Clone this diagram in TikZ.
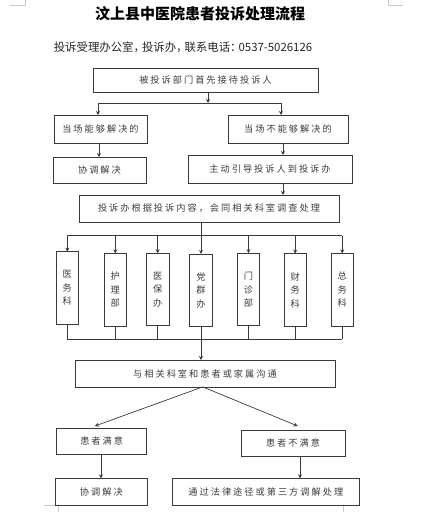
\documentclass[tikz,border=0pt]{standalone}
\usepackage{fontspec}
\setmainfont{Noto Sans CJK SC}
\usetikzlibrary{arrows.meta}
\makeatletter
\newcommand\lsp[1]{\@tfor\lspx:=#1\do{\lspx\kern2pt}\kern-2pt}
\makeatother
\definecolor{ln}{HTML}{3A3A3A}
\definecolor{tx}{HTML}{3C3C3C}
\definecolor{mk}{HTML}{C8C8C8}
\tikzset{
  box/.style={draw=ln, line width=0.9pt, rectangle, inner sep=0pt, outer sep=0pt,
    text=tx, font=\fontsize{9.2}{11}\selectfont},
  vbox/.style={box, minimum width=22.5pt, minimum height=72.7pt, align=center,
    font=\fontsize{9.2}{13.5}\selectfont},
  arr/.style={draw=ln, line width=0.7pt, -{Stealth[length=4pt,width=4pt]}},
  conn/.style={draw=ln, line width=0.7pt},
  pmark/.style={draw=mk, line width=0.6pt}
}
\begin{document}
\begin{tikzpicture}[x=1pt,y=-1pt]
\useasboundingbox (0,0) rectangle (423,524);
% page corner marks
\draw[pmark] (10,5) -- (25,5) -- (25,0);
\draw[pmark] (388,0) -- (388,5) -- (403,5);
\draw[pmark] (44,505) -- (58,505) -- (58,512);
\draw[pmark] (343,505) -- (343,512);
% titles
\node[font=\fontsize{15}{17}\selectfont\bfseries, text=black] (title) at (200,13.5) {汶上县中医院患者投诉处理流程};
\node[font=\fontsize{11.4}{14}\selectfont, text=black!85] (sub) at (183,47) {投诉受理办公室，\kern-3pt 投诉办，\kern-3pt 联系电话：\kern-3pt 0537-5026126};
% boxes
\node[box, minimum width=225pt, minimum height=24pt] (b1) at (205.5,80) {\lsp{被投诉部门首先接待投诉人}};
\node[box, minimum width=93pt, minimum height=28pt] (l1) at (100.5,129) {\lsp{当场能够解决的}};
\node[box, minimum width=120pt, minimum height=28pt] (r1) at (288,129) {\lsp{当场不能够解决的}};
\node[box, minimum width=93pt, minimum height=26pt] (l2) at (99.5,170) {\lsp{协调解决}};
\node[box, minimum width=164pt, minimum height=28pt] (r2) at (270,169) {\lsp{主动引导投诉人到投诉办}};
\node[box, minimum width=260pt, minimum height=27pt] (c1) at (209,208.5) {\lsp{投诉办根据投诉内容，会同相关科室调查处理}};
\node[vbox] (v1) at (67.3,288) {医\\务\\科};
\node[vbox] (v2) at (115.2,289.7) {护\\理\\部};
\node[vbox] (v3) at (157.7,289.5) {医\\保\\办};
\node[vbox] (v4) at (201,290.3) {党\\群\\办};
\node[vbox] (v5) at (248.5,289.5) {门\\诊\\部};
\node[vbox] (v6) at (295.2,290) {财\\务\\科};
\node[vbox] (v7) at (342.2,289.7) {总\\务\\科};
\node[box, minimum width=260pt, minimum height=27pt] (d1) at (205,373.5) {\lsp{与相关科室和患者或家属沟通}};
\node[box, minimum width=90pt, minimum height=26pt] (s1) at (101.7,441.3) {\lsp{患者满意}};
\node[box, minimum width=104pt, minimum height=26.7pt] (s2) at (293,443.3) {\lsp{患者不满意}};
\node[box, minimum width=92.7pt, minimum height=26.7pt] (e1) at (101.3,491.7) {\lsp{协调解决}};
\node[box, minimum width=187pt, minimum height=26.7pt] (e2) at (265.8,491.7) {\lsp{通过法律途径或第三方调解处理}};
% bus coordinates
\coordinate (t1) at (208,103);
\coordinate (tl) at (98,103);
\coordinate (tr) at (281,103);
\coordinate (m1) at (201,235.7);
\coordinate (m1l) at (67.3,235.7);
\coordinate (m1r) at (342.2,235.7);
\coordinate (m2) at (201,339);
\coordinate (m2l) at (67.3,339);
\coordinate (m2r) at (342.2,339);
\coordinate (dm) at (202.7,386.9);
\coordinate (dl) at (95,426);
\coordinate (dr) at (297.7,426);
% connectors
\draw[arr] (b1.south -| t1) -- (t1);
\draw[conn] (tl) -- (tr);
\draw[arr] (tl) -- (tl |- l1.north);
\draw[arr] (tr) -- (tr |- r1.north);
\draw[arr] (l1.south -| 99,0) -- (l2.north -| 99,0);
\draw[arr] (r1.south -| 283,0) -- (r2.north -| 283,0);
\draw[arr] (r2.south -| 283,0) -- (c1.north -| 283,0);
\draw[conn] (m1l) -- (m1r);
\draw[arr] (c1.south -| m1) -- (v4.north);
\foreach \v in {v1,v2,v3,v5,v6,v7}{
  \draw[arr] (\v.north |- m1) -- (\v.north);
  \draw[conn] (\v.south) -- (\v.south |- m2);
}
\draw[conn] (v4.south) -- (m2);
\draw[conn] (m2l) -- (m2r);
\draw[arr] (m2) -- (d1.north -| m2);
\draw[arr] (dm) -- (dl);
\draw[arr] (dm) -- (dr);
\draw[arr] (s1.south -| 101,0) -- (e1.north -| 101,0);
\draw[arr] (s2.south -| 300,0) -- (e2.north -| 300,0);
\end{tikzpicture}
\end{document}
